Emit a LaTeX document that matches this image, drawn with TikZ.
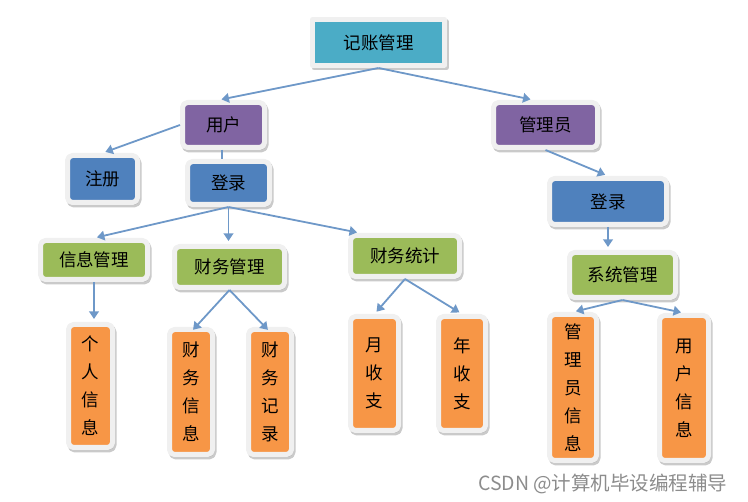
\documentclass[tikz,border=0pt]{standalone}
\usepackage{fontspec}
\newfontfamily\cjk{Noto Sans CJK SC}
\usetikzlibrary{arrows.meta,shadows}
\definecolor{tealbox}{HTML}{4BACC6}
\definecolor{purplebox}{HTML}{8064A2}
\definecolor{bluebox}{HTML}{4F81BD}
\definecolor{greenbox}{HTML}{9BBB59}
\definecolor{orangebox}{HTML}{F79646}
\definecolor{linkblue}{RGB}{110,152,200}

\begin{document}
\begin{tikzpicture}[x=1pt, y=-1pt, line join=round,
    box/.style={draw=black!6, line width=5pt, rounded corners=5pt, inner sep=0pt,
      fill=#1, text=black, font=\cjk\fontsize{17.5}{17.5}\selectfont,
      drop shadow={shadow xshift=1.5pt, shadow yshift=-2.5pt, fill=black!35,
        draw=black!35, line width=5pt, opacity=.6}},
    vbox/.style={box=orangebox, align=center, font=\cjk\fontsize{17.5}{28}\selectfont},
    link/.style={draw=linkblue, line width=1.8pt, shorten >=3pt,
      -{Triangle[width=9.5pt,length=7.5pt]}}]
    \useasboundingbox (0,0) rectangle (748,502);

    % 第一层
    \node[box=tealbox, sharp corners, minimum width=132, minimum height=46] (top) at (378.5,42.5) {记账管理};

    % 用户一侧
    \node[box=purplebox, minimum width=82, minimum height=45] (user) at (223.5,125) {用户};
    \node[box=bluebox, minimum width=70, minimum height=47] (reg) at (102.5,179) {注册};
    \node[box=bluebox, minimum width=82, minimum height=43] (login) at (228.5,183) {登录};
    \node[box=greenbox, minimum width=107, minimum height=39] (infomgr) at (94,260) {信息管理};
    \node[box=greenbox, minimum width=110, minimum height=41] (finmgr) at (229.5,267) {财务管理};
    \node[box=greenbox, minimum width=109, minimum height=41] (finstat) at (405,256) {财务统计};
    \node[vbox, minimum width=44, minimum height=123] (personal) at (90.5,386) {个\\人\\信\\息};
    \node[vbox, minimum width=43, minimum height=125] (fininfo) at (191,392) {财\\务\\信\\息};
    \node[vbox, minimum width=43, minimum height=125] (finrec) at (270,392) {财\\务\\记\\录};
    \node[vbox, minimum width=48, minimum height=114] (month) at (374.5,373.5) {月\\收\\支};
    \node[vbox, minimum width=47, minimum height=114] (year) at (462,373.5) {年\\收\\支};

    % 管理员一侧
    \node[box=purplebox, minimum width=104, minimum height=45] (admin) at (545.5,125) {管理员};
    \node[box=bluebox, minimum width=117, minimum height=46] (alogin) at (608,201.5) {登录};
    \node[box=greenbox, minimum width=106, minimum height=45] (sysmgr) at (622.5,275) {系统管理};
    \node[vbox, minimum width=47, minimum height=146] (admininfo) at (573,387.5) {管\\理\\员\\信\\息};
    \node[vbox, minimum width=49, minimum height=145] (userinfo) at (684,388) {用\\户\\信\\息};

    % 连线
    \draw[link] (top.south) -- ([xshift=-5pt]user.north);
    \draw[link] (top.south) -- ([xshift=-12pt]admin.north);
    \draw[link] (user.west) -- (reg.north);
    \draw[draw=linkblue, line width=1.8pt] ([xshift=-1.5pt]user.south) -- ([xshift=-1.5pt]user.south |- login.north);
    \draw[link] (login.south) -- (infomgr.north);
    \draw[link] (login.south) -- (login.south |- finmgr.north);
    \draw[link] (login.south) -- ([xshift=12pt]finstat.north west);
    \draw[link] (infomgr.south) -- (infomgr.south |- personal.north);
    \draw[link] (finmgr.south) -- ([yshift=-5pt]fininfo.north);
    \draw[link] (finmgr.south) -- ([yshift=-5pt]finrec.north);
    \draw[link] (finstat.south) -- (month.north);
    \draw[link] (finstat.south) -- (year.north);
    \draw[link] (admin.south) -- (alogin.north);
    \draw[link] (alogin.south) -- (alogin.south |- sysmgr.north);
    \draw[link] (sysmgr.south) -- (admininfo.north);
    \draw[link] (sysmgr.south) -- (userinfo.north);

    % 水印
    \node[anchor=east, text=black!45, font=\cjk\fontsize{19.5}{19.5}\selectfont] (mark) at (731,484) {CSDN @计算机毕设编程辅导};
\end{tikzpicture}
\end{document}
